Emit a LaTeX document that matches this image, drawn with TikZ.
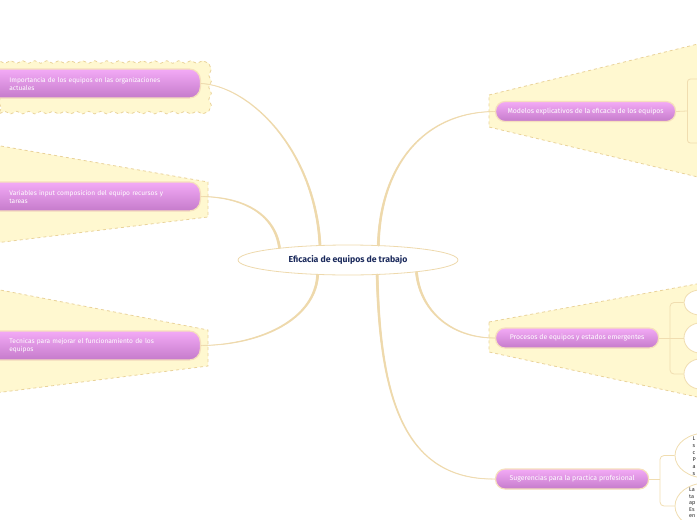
\documentclass[tikz,border=0pt]{standalone}
\usepackage{fontspec}
\setmainfont{Fira Sans}
\usetikzlibrary{shapes.geometric,decorations.pathmorphing,decorations.markings}
\definecolor{pktop}{HTML}{F3AAF6}
\definecolor{pkbot}{HTML}{C57BCB}
\definecolor{pkrim}{HTML}{F6DFBC}
\definecolor{zone}{HTML}{FFF8D0}
\definecolor{zoneline}{HTML}{E9D29A}
\definecolor{branch}{HTML}{EED9AC}
\definecolor{navy}{HTML}{1B2A5C}
\definecolor{leafline}{HTML}{F0DDB0}
\begin{document}
\begin{tikzpicture}[x=1pt,y=-1pt,
  pill/.style={rounded corners=11pt, top color=pktop, bottom color=pkbot, draw=pkrim, line width=1.2pt, text=white, font=\fontsize{6.6}{8}\selectfont, inner sep=0pt},
  lpill/.style={pill, minimum width=211pt, minimum height=29pt, text width=171pt, align=left, anchor=east},
  rpill/.style={pill, rounded corners=9.5pt, minimum height=20pt, anchor=west, align=center, font=\fontsize{6.9}{8}\selectfont},
  zonebox/.style={fill=zone, draw=zoneline, dashed, line width=0.8pt},
  branchline/.style={decoration={markings, mark=between positions 0 and 1 step 0.6pt with {\fill[branch] (0,0) circle ({(0.5+1.0*\pgfkeysvalueof{/pgf/decoration/mark info/distance from start}/\pgfdecoratedpathlength)*1pt});}}, decorate},
  treeline/.style={draw=leafline, line width=0.8pt, rounded corners=4pt},
  leaf/.style={ellipse, draw=leafline, fill=white, line width=0.8pt, inner sep=0pt},
  leaftext/.style={font=\fontsize{5.5}{7}\selectfont, text=black!85, align=left, inner sep=0pt, anchor=north west},
]
\useasboundingbox (0,0) rectangle (697,520);
\clip (0,0) rectangle (697,520);

% yellow zones
\path[zonebox, decorate, decoration={snake, amplitude=1.3pt, segment length=12pt}] (-5,62) -- (208,62) -- (208,106) -- (-5,106) -- cycle;
\path[zonebox] (-5,145) -- (208,182) -- (208,217) -- (-5,243) -- cycle;
\path[zonebox] (-5,289) -- (208,330) -- (208,366) -- (-5,393) -- cycle;
\path[zonebox] (489,95) -- (702,43) -- (702,178) -- (489,127) -- cycle;
\path[zonebox] (489,322) -- (702,283) -- (702,398) -- (489,352) -- cycle;

% central topic
\node[ellipse, draw=branch, fill=white, line width=0.8pt, minimum width=220pt, minimum height=30pt, inner sep=0pt, font=\bfseries\fontsize{8.7}{10}\selectfont, text=navy] (c) at (348,260) {Eficacia de equipos de trabajo};

% left topics
\node[lpill] (p1) at (201,83.5) {Importancia de los equipos en las organizaciones\\actuales};
\node[lpill] (p2) at (201,196.5) {Variables input composicion del equipo recursos y\\tareas};
\node[lpill] (p3) at (201,345.5) {Tecnicas para mejorar el funcionamiento de los\\equipos};

% right topics
\node[rpill, minimum width=180pt] (p4) at (495,111.5) {Modelos explicativos de la eficacia de los equipos};
\node[rpill, minimum width=163pt] (p5) at (495,338) {Procesos de equipos y estados emergentes};
\node[rpill, minimum width=153pt] (p6) at (495,479) {Sugerencias para la practica profesional};

% branches
\path[branchline] (p1.east) .. controls (250,86) and (315,150) .. (c.152);
\path[branchline] (p2.east) .. controls (245,197) and (275,215) .. (c.170);
\path[branchline] (p3.east) .. controls (260,345) and (315,320) .. (c.206.5);
\path[branchline] (p4.west) .. controls (420,112) and (380,170) .. (c.26.5);
\path[branchline] (p5.west) .. controls (450,338) and (420,310) .. (c.350.6);
\path[branchline] (p6.west) .. controls (405,480) and (380,400) .. (c.333.5);

% subtopics of p4
\node[draw=leafline, fill=zone, line width=0.8pt, rounded corners=3pt, minimum width=30pt, minimum height=64pt, anchor=west, inner sep=0pt] (r4) at (687,111) {};
\draw[treeline] (p4.east) -- (r4.west);

% subtopics of p5
\node[leaf, minimum width=32pt, minimum height=25pt] (l1) at (700,302.5) {};
\node[leaf, minimum width=32pt, minimum height=30pt] (l2) at (700,338) {};
\node[leaf, minimum width=32pt, minimum height=30pt] (l3) at (700,374) {};
\coordinate (j5) at (670,338);
\draw[treeline] (p5.east) -- (l2.west);
\draw[treeline] (l1.west) -| (j5);
\draw[treeline] (l3.west) -| (j5);

% subtopics of p6
\node[leaf, minimum width=62pt, minimum height=45pt] (la) at (706,455.5) {};
\node[leaf, minimum width=62pt, minimum height=46pt] (lb) at (706,506) {};
\coordinate (j6) at (660,479);
\draw[treeline] (p6.east) -- (j6);
\draw[treeline] (la.west) -| (j6);
\draw[treeline] (lb.west) -| (j6);
\node[leaftext] (ta) at (692.5,437) {L\\s\\c\\P\\a\\s};
\node[leaftext, font=\fontsize{5.5}{6.5}\selectfont] (tb) at (689,488) {La\\ta\\ap\\Es\\en};
\end{tikzpicture}
\end{document}
